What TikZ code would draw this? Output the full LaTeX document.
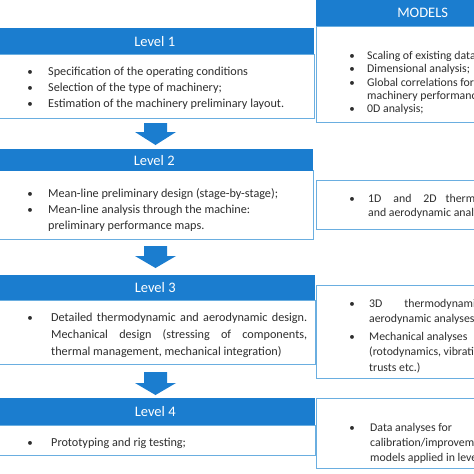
\documentclass[tikz,border=0pt]{standalone}
\usepackage{fontspec}
\setmainfont{Carlito}
\definecolor{hblue}{HTML}{1B7DCF}
\definecolor{bblue}{HTML}{6AAEE0}
\definecolor{txtc}{HTML}{2E2E2E}
\tikzset{
  headbox/.style={draw=none, fill=hblue, text=white, inner sep=0pt, anchor=north west,
    font=\fontsize{14.5}{16}\selectfont},
  bodybox/.style={draw=bblue, line width=1pt, fill=white, inner sep=0pt, anchor=north west},
  ltxt/.style={inner sep=0pt, anchor=base west, text=txtc, font=\fontsize{12.2}{14}\selectfont},
  mtxt/.style={inner sep=0pt, anchor=base west, text=txtc, font=\fontsize{11.8}{13}\selectfont},
  lbul/.style={inner sep=0pt, anchor=base, text=txtc, font=\fontsize{11}{12}\selectfont},
  mbul/.style={inner sep=0pt, anchor=base, text=txtc, font=\fontsize{11}{12}\selectfont},
  blockarrow/.style={fill=hblue, draw=none}
}
\begin{document}
\begin{tikzpicture}[x=1pt,y=-1pt]
\useasboundingbox (0,0) rectangle (474,474);
\clip (0,0) rectangle (474,474);

% ---------- Level 1 ----------
\node[bodybox, minimum width=319pt, minimum height=64pt] (b1) at (-5,54) {};
\node[headbox, minimum width=319pt, minimum height=26pt] (h1) at (-5,28) {Level 1};
\node[lbul] (b1a) at (30,75) {\textbullet};
\node[ltxt] (t1a) at (48,75) {Specification of the operating conditions};
\node[lbul] (b1b) at (30,91) {\textbullet};
\node[ltxt] (t1b) at (48,91) {Selection of the type of machinery;};
\node[lbul] (b1c) at (30,107) {\textbullet};
\node[ltxt] (t1c) at (48,107) {Estimation of the machinery preliminary layout.};

% ---------- Models 1 ----------
\node[bodybox, minimum width=213pt, minimum height=96pt] (m1) at (316,26) {};
\node[headbox, minimum width=213pt, minimum height=26pt] (mh) at (316,0) {MODELS};
\node[mbul] (mb1a) at (352,59) {\textbullet};
\node[mtxt] (mt1a) at (367,59) {Scaling of existing data;};
\node[mbul] (mb1b) at (352,72.5) {\textbullet};
\node[mtxt] (mt1b) at (367,72.5) {Dimensional analysis;};
\node[mbul] (mb1c) at (352,86) {\textbullet};
\node[mtxt] (mt1c) at (367,86) {Global correlations for};
\node[mtxt] (mt1d) at (367,99) {machinery performance;};
\node[mbul] (mb1e) at (352,112) {\textbullet};
\node[mtxt] (mt1e) at (367,112) {0D analysis;};

% ---------- Arrow 1 ----------
\fill[blockarrow] (144,123) -- (167,123) -- (167,132) -- (176,132) -- (155.5,145)
  -- (135,132) -- (144,132) -- cycle;

% ---------- Level 2 ----------
\node[bodybox, minimum width=318pt, minimum height=69pt] (b2) at (-5,170) {};
\node[headbox, minimum width=318pt, minimum height=22pt] (h2) at (-5,149) {Level 2};
\node[lbul] (b2a) at (30,197) {\textbullet};
\node[ltxt] (t2a) at (48,197) {Mean-line preliminary design (stage-by-stage);};
\node[lbul] (b2b) at (30,213) {\textbullet};
\node[ltxt] (t2b) at (48,213) {Mean-line analysis through the machine:};
\node[ltxt] (t2c) at (48,229) {preliminary performance maps.};

% ---------- Models 2 ----------
\node[bodybox, minimum width=213pt, minimum height=49pt] (m2) at (316,180) {};
\node[mbul] (mb2a) at (352,202) {\textbullet};
\node[mtxt] (mt2a) at (368,202) {1D\hspace{12pt}and\hspace{12pt}2D\hspace{9pt}thermodynamic};
\node[mtxt] (mt2b) at (368,216) {and aerodynamic analyses;};

% ---------- Arrow 2 ----------
\fill[blockarrow] (144,246) -- (167,246) -- (167,256) -- (176,256) -- (155.5,268)
  -- (135,256) -- (144,256) -- cycle;

% ---------- Level 3 ----------
\node[bodybox, minimum width=320pt, minimum height=64pt] (b3) at (-5,300) {};
\node[headbox, minimum width=320pt, minimum height=25pt] (h3) at (-5,275) {Level 3};
\node[lbul] (b3a) at (30,321) {\textbullet};
\node[ltxt] (t3a) at (51,321) {\makebox[256pt][s]{Detailed thermodynamic and aerodynamic design.}};
\node[ltxt] (t3b) at (51,338) {\makebox[256pt][s]{Mechanical design (stressing of components,}};
\node[ltxt] (t3c) at (51,355) {thermal management, mechanical integration)};

% ---------- Models 3 ----------
\node[bodybox, minimum width=213pt, minimum height=93pt] (m3) at (316,285) {};
\node[mbul] (mb3a) at (352,307) {\textbullet};
\node[mtxt] (mt3a) at (369,307) {3D\hspace{22pt}thermodynamic and};
\node[mtxt] (mt3b) at (369,322) {aerodynamic analyses;};
\node[mbul] (mb3c) at (352,340) {\textbullet};
\node[mtxt] (mt3c) at (369,340) {Mechanical analyses};
\node[mtxt] (mt3d) at (369,355) {(rotodynamics, vibrations,};
\node[mtxt] (mt3e) at (369,371) {trusts etc.)};

% ---------- Arrow 3 ----------
\fill[blockarrow] (144,372) -- (167,372) -- (167,383) -- (176,383) -- (155.5,395)
  -- (135,383) -- (144,383) -- cycle;

% ---------- Level 4 ----------
\node[bodybox, minimum width=320pt, minimum height=30pt] (b4) at (-5,425) {};
\node[headbox, minimum width=320pt, minimum height=27pt] (h4) at (-5,398) {Level 4};
\node[lbul] (b4a) at (30,446) {\textbullet};
\node[ltxt] (t4a) at (51,446) {Prototyping and rig testing;};

% ---------- Models 4 ----------
\node[bodybox, minimum width=213pt, minimum height=70pt] (m4) at (316,398) {};
\node[mbul] (mb4a) at (352,431) {\textbullet};
\node[mtxt] (mt4a) at (370,431) {Data analyses for};
\node[mtxt] (mt4b) at (370,446) {calibration/improvement of};
\node[mtxt] (mt4c) at (370,461) {models applied in levels 1-3};
\end{tikzpicture}
\end{document}
